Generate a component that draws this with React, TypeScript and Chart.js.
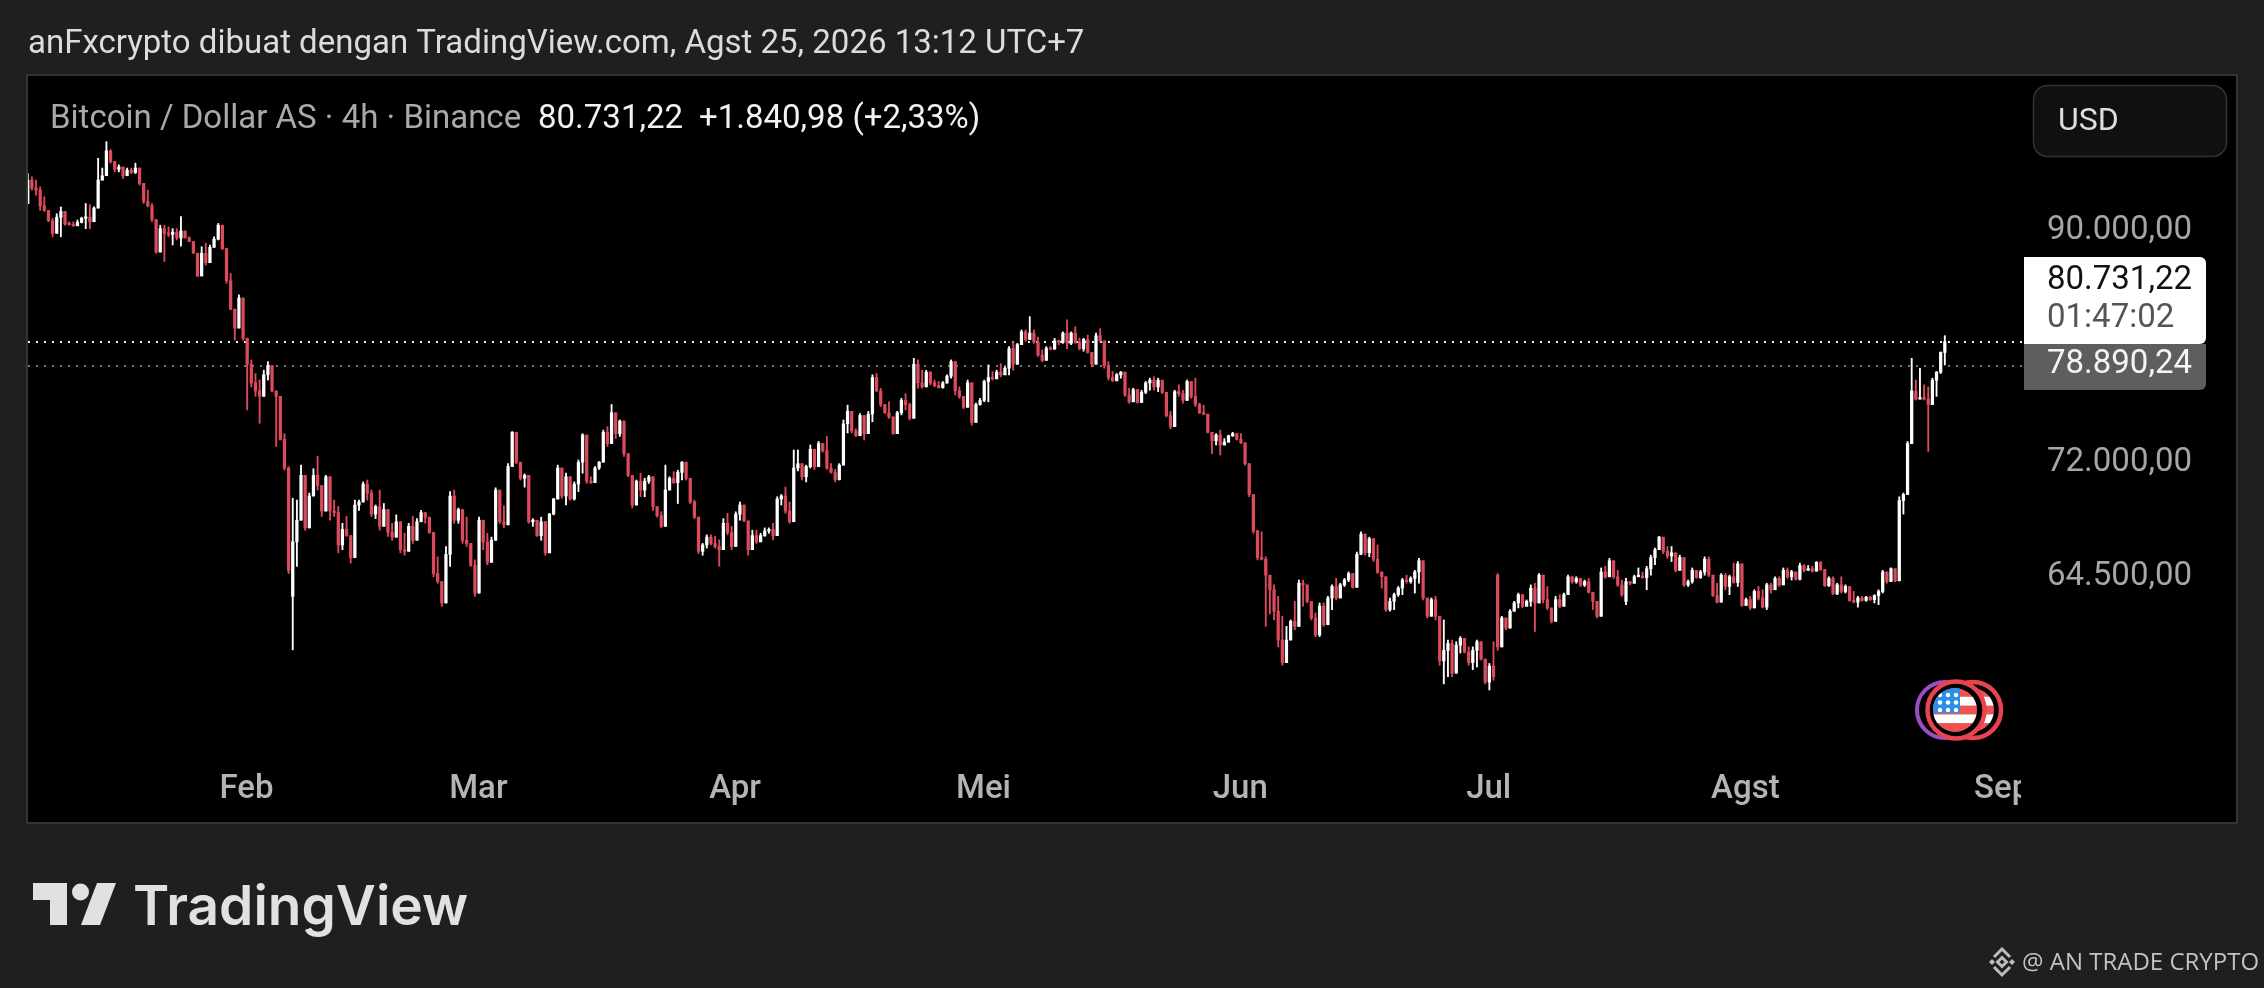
import React, { useEffect, useRef } from "react";
import { Chart, registerables } from "chart.js";

Chart.register(...registerables);

// Candle rows in thousands of USD: [high, low, close, optional open]. One row per 12 hours.
const candlesJan = [[94.9,92.2,94.3],[94.6,93.4,93.6],[94.3,92.95,93.4],[93.7,91.6,92.0],[92.8,91.5,91.6],[91.6,90.6,90.7],[90.9,89.3,89.6],[91.3,90.2,91.0],[91.9,89.3,91.5],[90.75,90.3,90.4],[90.6,90.3,90.35],[90.6,90.2,90.25],[90.75,90.45,90.55],[91.0,90.5,90.9],[92.2,90.0,91.0],[92.1,90.0,90.6],[91.9,91.05,91.8],[96.3,92.5,94.3],[95.4,94.6,94.7],[97.85,95.85,97.0],[97.1,95.85,96.0],[95.85,95.05,95.3],[95.7,95.05,95.5],[95.4,94.45,94.7],[95.4,95.05,95.2],[95.4,94.9,95.0],[95.85,94.9,95.4],[95.4,93.85,94.0],[93.4,92.2,92.4],[93.4,91.9,92.0],[92.2,90.6,90.8],[90.45,87.9,88.0],[90.3,88.0,90.0],[90.3,87.2,89.6],[90.15,89.3,89.5],[90.0,88.6,89.7],[90.0,89.03,89.2],[91.05,88.5,89.8],[89.6,89.2,89.2],[89.3,88.9,88.9],[88.9,87.9,87.9],[87.9,85.95,86.0],[88.45,87.05,87.9],[88.75,86.9,87.1],[88.6,87.3,88.4],[89.3,88.75,89.1],[90.45,89.03,90.3],[89.3,88.2,88.3],[87.6,85.4,85.6],[86.2,83.25,83.3],[83.25,80.86,81.8],[84.45,81.9,84.2],[83.75,80.86,81.0]];
const candlesFeb = [[80.86,75.6,79.0],[79.33,77.3,77.6],[78.3,76.6,77.0],[77.81,74.65,76.6],[78.55,76.6,78.2],[79.2,77.81,78.9],[78.8,76.95,77.0],[76.8,73.0,76.6],[76.33,73.45,73.5],[73.9,71.35,71.5],[71.6,64.6,64.8],[69.45,60.03,66.6,63.2],[69.33,65.05,68.0],[71.7,68.25,71.0],[69.8,67.35,67.5],[69.8,68.9,69.6],[71.45,70.0,71.0],[72.3,70.0,70.3],[69.8,68.25,68.6],[71.0,69.33,70.9],[69.8,68.0,68.6],[69.33,68.25,68.5],[68.9,65.9,66.4],[67.8,66.1,67.4],[68.25,66.95,67.0],[66.95,65.25,65.6],[69.33,66.95,69.0],[69.33,68.65,69.2],[70.55,69.33,70.4],[70.68,69.33,69.8],[70.0,68.25,68.4],[69.0,68.1,68.9],[70.0,67.35,67.6],[69.1,68.0,68.7],[68.25,66.95,67.2],[67.8,66.7,66.9],[68.35,66.95,67.9],[67.25,65.9,66.1],[67.15,65.75,66.0],[67.8,66.95,67.6],[68.25,66.5,66.7],[68.1,67.6,67.9],[68.65,68.0,68.5],[68.35,67.8,68.2],[67.8,67.15,67.2],[66.5,64.4,64.6],[65.65,64.0,64.1],[64.0,62.6,62.8],[66.3,64.0,65.8],[69.9,65.05,69.6],[70.0,67.8,68.0],[68.8,67.8,68.7],[67.9,66.5,66.7],[68.2,66.3,66.5],[66.2,65.05,65.1],[65.45,63.2,63.4]];
const candlesMar = [[68.2,66.3,68.0],[67.35,66.1,66.6],[67.15,65.15,65.3],[66.9,65.35,66.7],[70.15,68.7,70.0],[68.6,67.8,67.9],[68.95,67.5,67.7],[71.8,70.55,71.6],[74.05,72.4,74.0],[73.45,71.8,71.9],[71.55,70.68,70.8],[71.1,70.2,71.0],[70.2,67.8,67.9],[68.1,67.6,68.0],[67.6,66.95,67.0],[68.2,66.7,67.9],[67.6,65.75,65.9],[68.45,67.35,68.4],[69.45,68.35,69.4],[71.7,69.55,71.5],[70.35,69.45,69.6],[71.15,69.0,70.9],[70.35,69.33,69.4],[70.55,69.33,70.4],[72.05,69.9,71.9],[73.9,71.15,73.8],[71.6,70.45,70.6],[70.9,70.45,70.5],[71.6,70.8,71.5],[71.95,71.4,71.9],[74.15,72.05,74.0],[74.4,73.0,73.2],[76.0,73.8,75.4],[74.75,73.55,73.9],[74.88,73.7,74.8],[74.4,72.3,72.5],[71.95,70.9,71.0],[70.45,68.8,69.0],[70.68,69.8,70.6],[71.15,69.55,70.0],[70.8,69.55,70.6],[71.0,70.45,70.9],[70.55,68.65,68.9],[68.9,68.2,68.3],[68.55,67.5,67.6],[71.7,69.8,70.0],[70.9,70.2,70.8],[71.25,70.45,70.5],[71.35,69.1,71.2],[71.95,70.68,71.9],[71.6,70.68,70.8],[70.0,69.1,69.2],[69.33,68.1,68.2],[68.2,65.85,66.0],[66.5,65.75,66.4],[67.05,66.2,66.9],[67.05,66.4,66.5],[66.95,66.2,66.3],[66.72,65.05,66.1],[68.1,67.15,67.8],[68.45,67.05,67.2],[67.6,66.1,66.3]];
const candlesApr = [[68.55,67.15,68.4],[69.2,68.0,69.0],[69.0,67.9,67.95],[66.95,65.75,66.1],[67.35,66.4,67.0],[67.35,66.5,66.6],[67.15,66.8,67.0],[67.5,66.95,67.3],[67.5,67.15,67.4],[67.8,66.72,67.0],[69.55,67.25,69.4],[69.7,69.0,69.6],[70.2,68.45,68.6],[69.2,67.8,67.9],[72.75,69.1,71.5],[72.75,71.3,71.8],[71.8,70.68,70.9],[71.7,70.55,71.6],[73.1,71.5,72.8],[72.3,71.4,71.6],[73.35,72.05,73.2],[73.2,72.6,72.7],[73.7,71.4,71.5],[71.8,71.15,71.2],[71.4,70.55,70.7],[71.8,70.68,71.7],[74.88,72.05,74.6],[75.95,73.95,75.5],[74.75,73.95,74.1],[74.25,73.7,73.75],[75.35,74.4,75.2],[75.0,73.45,73.9],[75.5,74.65,75.3],[78.2,74.75,78.0],[78.3,76.95,77.0],[77.2,75.85,76.0],[75.95,75.35,75.4],[76.2,75.0,75.1],[74.88,73.85,73.9],[75.5,74.55,75.4],[76.45,75.25,76.3],[76.8,75.6,76.0],[76.1,74.88,75.0],[79.45,76.1,79.0],[79.33,77.2,77.6],[78.55,77.2,77.3],[78.55,77.45,78.4],[78.45,77.45,77.6],[77.81,77.3,77.4],[77.7,77.2,77.25],[77.7,77.2,77.6],[78.2,77.55,78.1],[79.33,77.95,79.2],[78.2,76.7,77.0],[77.3,76.45,76.6],[76.6,75.7,75.8],[77.81,76.2,77.6],[76.2,74.5,74.7],[76.1,75.35,76.0],[76.45,75.95,76.3]];
const candlesMay = [[77.81,76.2,77.7],[78.95,76.2,78.0],[78.45,77.81,77.9],[78.55,78.05,78.4],[79.05,78.05,78.2],[78.8,78.3,78.7],[80.35,78.2,80.2],[80.75,78.55,79.0],[80.6,79.7,80.5],[81.65,80.6,81.5],[81.65,80.75,80.9],[82.7,81.1,81.4],[81.65,80.6,80.7],[81.1,79.6,79.7],[80.1,79.2,79.3],[80.35,79.33,80.2],[80.35,80.1,80.15],[81.0,80.2,80.8],[80.86,80.5,80.7],[81.5,80.6,81.4],[82.44,80.2,80.6],[81.5,80.5,81.4],[81.9,80.6,80.7],[81.0,80.1,80.2],[81.0,80.0,80.9],[81.25,79.85,79.9],[79.85,78.8,79.0],[81.4,79.05,81.2],[81.75,80.75,80.8],[80.75,78.7,78.9],[79.2,77.81,78.0],[78.45,77.7,77.75],[78.3,77.81,78.2],[78.45,77.95,78.4],[77.7,76.6,76.7],[77.2,76.1,76.2],[77.2,76.2,77.1],[76.95,76.1,76.15],[77.05,76.2,76.9],[77.7,76.8,77.6],[77.95,77.05,77.8],[78.05,77.05,77.3],[77.95,76.95,77.8],[77.55,76.8,76.9],[76.1,75.1,75.2],[75.5,74.25,74.4],[77.05,75.85,76.95],[77.45,76.6,76.8],[77.05,76.1,76.3],[77.81,77.05,77.7],[77.3,76.45,76.6],[77.95,75.85,76.0],[76.1,75.35,75.4],[75.95,75.25,75.3],[75.25,73.95,74.0],[73.45,72.5,73.4],[73.9,73.1,73.8],[74.15,72.4,73.1],[73.55,73.2,73.3],[73.8,73.55,73.75],[74.0,73.7,73.9],[73.9,73.45,73.5]];
const candlesJun = [[73.9,73.2,73.25],[73.1,71.7,71.8],[71.7,69.55,69.7],[69.55,67.15,67.3],[67.35,65.45,65.6],[67.25,65.45,65.5],[65.65,61.4,64.5],[64.5,62.15,63.6],[63.9,61.78,62.3],[63.2,60.2,60.6],[62.0,59.15,59.3],[61.4,59.55,60.6],[61.78,60.6,61.7],[62.9,61.2,61.4],[64.2,62.4,64.0],[64.2,62.6,63.9],[63.9,62.8,62.9],[62.9,61.78,61.9],[62.2,60.8,60.9],[62.8,60.8,62.6],[62.8,61.4,61.5],[63.2,62.4,63.1],[63.9,62.4,63.8],[64.3,62.98,63.1],[64.0,63.5,63.9],[64.3,63.8,64.2],[64.7,64.1,64.6],[64.6,63.7,63.75],[65.95,64.4,65.8],[67.25,66.2,67.1],[66.6,65.75,65.9],[66.9,65.65,66.8],[66.2,65.35,65.5],[66.4,64.6,64.7],[64.5,63.7,64.4],[64.4,62.3,62.4],[63.1,62.3,62.9],[63.4,62.4,63.3],[63.8,63.2,63.7],[64.3,63.3,64.2],[64.5,64.0,64.1],[64.4,64.0,64.3],[64.8,63.4,64.7],[65.55,64.0,65.4],[64.2,62.98,63.1],[62.9,61.9,62.0],[63.1,62.4,63.0],[63.2,61.78,62.0],[61.78,59.15,59.4],[61.78,58.1,60.0],[60.6,58.5,60.4],[60.6,58.5,58.7],[60.5,60.0,60.3],[60.8,59.85,60.7],[60.4,59.85,59.9],[60.2,59.15,59.3],[60.2,58.9,60.0],[60.6,59.05,60.5],[60.1,59.45,59.5],[59.45,58.1,58.2]];
const candlesJul = [[59.25,57.76,59.1],[60.5,58.3,58.5],[64.6,60.0,60.2,64.5],[62.0,60.2,61.9],[61.78,61.2,61.3],[62.4,61.4,62.3],[62.9,62.4,62.8],[63.4,62.5,63.3],[63.2,62.5,62.6],[62.98,62.6,62.9],[63.9,62.6,63.7],[64.0,61.1,62.8],[64.6,63.3,64.5],[64.2,62.8,63.0],[63.8,62.4,62.5],[62.5,61.6,61.7],[63.2,61.78,63.0],[63.3,62.5,62.6],[63.4,62.9,63.3],[64.5,63.8,64.4],[64.4,64.0,64.1],[64.4,64.0,64.3],[64.3,63.8,63.9],[64.2,63.8,64.1],[64.3,63.4,63.45],[63.2,62.4,62.9],[62.5,61.9,62.0],[64.95,62.4,64.7],[65.05,64.3,64.4],[65.55,64.5,65.4],[64.95,64.3,64.4],[64.8,63.8,63.9],[64.2,63.2,63.3],[64.3,62.7,64.1,62.9],[64.1,63.9,64.0],[64.5,64.0,64.4],[64.95,64.4,64.45],[64.7,64.3,64.35],[65.05,63.6,64.9],[65.75,64.5,65.6],[66.2,65.15,66.1],[66.95,66.2,66.9],[66.7,65.85,66.0],[66.3,65.55,65.7],[66.3,65.35,65.9],[65.75,64.7,64.8],[65.75,64.8,65.6],[65.45,63.8,63.9],[64.2,63.8,64.1],[64.95,64.0,64.8],[64.5,64.3,64.35],[64.8,64.3,64.7],[65.65,64.5,65.5],[65.65,64.4,64.5],[64.4,63.2,63.25],[64.0,62.8,62.85],[64.6,63.4,64.5],[64.6,63.6,63.8],[64.5,63.3,64.4],[65.25,64.0,64.05],[65.35,63.8,65.2],[63.8,62.6,62.65]];
const candlesAug = [[63.1,62.8,63.0],[63.2,62.4,62.5],[63.6,62.7,63.5],[63.8,62.98,63.1],[63.6,62.5,62.55],[64.0,62.4,63.9],[64.0,63.4,63.6],[64.4,63.8,64.3],[64.4,63.8,63.9],[64.95,63.9,64.8],[64.95,64.3,64.4],[64.8,64.2,64.7],[64.5,64.2,64.25],[65.25,64.2,65.1],[65.15,64.7,64.8],[65.1,64.8,64.9],[65.05,64.7,64.75],[65.35,64.8,65.3],[65.35,64.8,64.85],[64.8,63.8,63.85],[64.4,63.8,64.3],[64.4,63.3,63.35],[64.0,63.3,63.9],[64.4,63.4,63.5],[63.9,63.4,63.8],[63.6,62.9,62.95],[63.5,62.8,62.85],[63.2,62.55,63.1],[63.2,62.9,62.95],[63.2,62.9,63.15],[63.2,62.95,63.0],[63.3,62.8,63.25],[63.6,62.7,63.5],[64.8,63.4,64.7],[64.5,64.0,64.1],[64.95,64.1,64.9],[64.8,64.1,64.15],[69.55,64.3,69.3],[69.8,68.4,69.7],[73.35,69.7,73.2],[79.45,73.35,77.0],[77.81,76.33,76.4],[78.7,76.45,76.5],[77.45,76.33,76.4],[77.3,72.65,76.0],[77.95,76.1,77.8],[78.45,76.6,78.4],[79.95,78.3,79.9],[81.2,78.95,80.73122]];

const firstCandleDay = 4.4; // day of the year of the first candle
const candleStepDays = 0.5;
const monthDays = [31, 59, 90, 120, 151, 181, 212, 243];
const monthLabels = ["Feb", "Mar", "Apr", "Mei", "Jun", "Jul", "Agst", "Sep"];
const priceTicks = [64500, 72000, 90000];
const priceTickLabels = ["64.500,00", "72.000,00", "90.000,00"];
const lastPrice = 80731.22;
const prevClose = 78890.24;

const FONT = "Roboto, sans-serif";
const UP = "#ffffff";
const DOWN = "#dc4a5c";

const rows = [...candlesJan, ...candlesFeb, ...candlesMar, ...candlesApr, ...candlesMay, ...candlesJun, ...candlesJul, ...candlesAug];
const candles = rows.map((r, i) => {
  const open = r.length > 3 ? r[3] : i > 0 ? rows[i - 1][2] : r[1];
  const close = r[2];
  return {
    x: firstCandleDay + i * candleStepDays,
    open: open * 1000,
    close: close * 1000,
    high: Math.max(r[0], open, close) * 1000,
    low: Math.min(r[1], open, close) * 1000,
  };
});
const candleColor = (c: any) => (c.close >= c.open ? UP : DOWN);

function text(ctx: any, s: string, x: number, y: number, font: string, color: string, align = "left") {
  ctx.font = font;
  ctx.fillStyle = color;
  ctx.textAlign = align;
  ctx.textBaseline = "middle";
  ctx.fillText(s, x, y);
}

function miniFlag(ctx: any, cx: number, cy: number, r: number, canton: boolean) {
  ctx.save();
  ctx.beginPath();
  ctx.arc(cx, cy, r, 0, Math.PI * 2);
  ctx.clip();
  const top = cy - r;
  const h = (2 * r) / 5;
  const colors = ["#ef5350", "#ffffff", "#ef5350", "#ffffff", "#ef5350"];
  colors.forEach((col, i) => {
    ctx.fillStyle = col;
    ctx.fillRect(cx - r, top + i * h, 2 * r, h + 0.5);
  });
  if (canton) {
    ctx.fillStyle = "#2f8fe8";
    ctx.fillRect(cx - r, top, r + 5, r + 3);
    ctx.fillStyle = "#fff";
    for (let a = 0; a < 3; a++) for (let b = 0; b < 3; b++) {
      ctx.beginPath();
      ctx.arc(cx - 15 + a * 8, cy - 15 + b * 7.5, 2.2, 0, Math.PI * 2);
      ctx.fill();
    }
  }
  ctx.restore();
}

const furniture = {
  id: "furniture",
  beforeDraw(chart: any) {
    const ctx = chart.ctx;
    ctx.save();
    ctx.fillStyle = "#1f1f1f";
    ctx.fillRect(0, 0, chart.width, chart.height);
    ctx.fillStyle = "#000";
    ctx.fillRect(28, 76, 2208, 746);
    ctx.strokeStyle = "#343434";
    ctx.lineWidth = 2;
    ctx.strokeRect(27, 75, 2210, 748);
    ctx.restore();
  },
  beforeDatasetsDraw(chart: any) {
    const ctx = chart.ctx;
    const y = chart.scales.y;
    ctx.save();
    ctx.lineWidth = 2;
    ctx.setLineDash([2, 6]);
    ctx.strokeStyle = "#f2f2f2";
    ctx.beginPath();
    ctx.moveTo(28, Math.round(y.getPixelForValue(lastPrice)));
    ctx.lineTo(2024, Math.round(y.getPixelForValue(lastPrice)));
    ctx.stroke();
    ctx.strokeStyle = "#7a7a7a";
    ctx.beginPath();
    ctx.moveTo(28, Math.round(y.getPixelForValue(prevClose)));
    ctx.lineTo(2024, Math.round(y.getPixelForValue(prevClose)));
    ctx.stroke();
    ctx.restore();
  },
  afterDraw(chart: any) {
    const ctx = chart.ctx;
    ctx.save();
    // clip of the time axis label
    ctx.fillStyle = "#000";
    ctx.fillRect(2021, 755, 60, 62);

    // header
    text(ctx, "anFxcrypto dibuat dengan TradingView.com, Agst 25, 2026 13:12 UTC+7", 28, 44.5, `33px ${FONT}`, "#dcdcdc");
    // legend
    text(ctx, "Bitcoin / Dollar AS · 4h · Binance", 50, 119.5, `33px ${FONT}`, "#a9a9a9");
    text(ctx, "80.731,22", 538, 119.5, `33px ${FONT}`, "#f2f2f2");
    text(ctx, "+1.840,98 (+2,33%)", 699, 119.5, `33px ${FONT}`, "#f2f2f2");

    // currency box
    ctx.beginPath();
    ctx.roundRect(2033.5, 85.5, 193, 71, 14);
    ctx.fillStyle = "#101010";
    ctx.fill();
    ctx.strokeStyle = "#333";
    ctx.lineWidth = 1.5;
    ctx.stroke();
    text(ctx, "USD", 2058, 122, `32px ${FONT}`, "#dedede");

    // price labels
    ctx.beginPath();
    ctx.roundRect(2024, 344, 182, 46, [0, 0, 6, 0]);
    ctx.fillStyle = "#5e5e5e";
    ctx.fill();
    ctx.beginPath();
    ctx.roundRect(2024, 257, 182, 87, [0, 6, 6, 0]);
    ctx.fillStyle = "#ffffff";
    ctx.fill();
    text(ctx, "80.731,22", 2192, 281, `33px ${FONT}`, "#111111", "right");
    text(ctx, "01:47:02", 2047, 319, `33px ${FONT}`, "#555555");
    text(ctx, "78.890,24", 2192, 364.5, `33px ${FONT}`, "#f4f4f4", "right");

    // event marker
    const cy = 710;
    ctx.lineWidth = 4;
    ctx.strokeStyle = "#9a4fc4";
    ctx.beginPath();
    ctx.arc(1945, cy, 28, 0, Math.PI * 2);
    ctx.stroke();
    miniFlag(ctx, 1972, cy, 22, false);
    ctx.strokeStyle = "#e8434f";
    ctx.lineWidth = 4.5;
    ctx.beginPath();
    ctx.arc(1973, cy, 28, 0, Math.PI * 2);
    ctx.stroke();
    ctx.fillStyle = "#000";
    ctx.beginPath();
    ctx.arc(1956, cy, 30, 0, Math.PI * 2);
    ctx.fill();
    ctx.strokeStyle = "#e8434f";
    ctx.lineWidth = 4.5;
    ctx.beginPath();
    ctx.arc(1956, cy, 28.5, 0, Math.PI * 2);
    ctx.stroke();
    miniFlag(ctx, 1955, cy, 22, true);

    // TradingView logo
    ctx.fillStyle = "#e1e1e1";
    ctx.beginPath();
    ctx.moveTo(33, 883); ctx.lineTo(67, 883); ctx.lineTo(67, 925); ctx.lineTo(50, 925); ctx.lineTo(50, 900); ctx.lineTo(33, 900);
    ctx.closePath();
    ctx.fill();
    ctx.beginPath();
    ctx.arc(80.5, 892, 8.5, 0, Math.PI * 2);
    ctx.fill();
    ctx.beginPath();
    ctx.moveTo(97, 883); ctx.lineTo(116, 883); ctx.lineTo(100, 925); ctx.lineTo(81, 925);
    ctx.closePath();
    ctx.fill();
    ctx.font = `600 55px Inter, sans-serif`;
    ctx.textAlign = "left";
    ctx.textBaseline = "alphabetic";
    ctx.fillText("TradingView", 133, 925);

    // watermark
    const bx = 2002, by = 962;
    ctx.strokeStyle = "#bdbdbd";
    ctx.lineWidth = 3;
    ctx.beginPath();
    ctx.moveTo(bx - 8, by - 5); ctx.lineTo(bx, by - 13); ctx.lineTo(bx + 8, by - 5);
    ctx.moveTo(bx - 8, by + 5); ctx.lineTo(bx, by + 13); ctx.lineTo(bx + 8, by + 5);
    ctx.moveTo(bx, by - 4.5); ctx.lineTo(bx + 4.5, by); ctx.lineTo(bx, by + 4.5); ctx.lineTo(bx - 4.5, by);
    ctx.closePath();
    ctx.stroke();
    ctx.fillStyle = "#bdbdbd";
    [-1, 1].forEach((s) => {
      ctx.beginPath();
      ctx.moveTo(bx + s * 10, by - 3); ctx.lineTo(bx + s * 13, by); ctx.lineTo(bx + s * 10, by + 3); ctx.lineTo(bx + s * 7, by);
      ctx.closePath();
      ctx.fill();
    });
    text(ctx, "@ AN TRADE CRYPTO", 2022, 963, `24px "Open Sans", sans-serif`, "#c2c2c2");
    ctx.restore();
  },
};

export default function App() {
  const ref = useRef<HTMLCanvasElement | null>(null);
  useEffect(() => {
    document.body.style.margin = "0";
    document.body.style.overflow = "hidden";
    const chart = new Chart(ref.current as any, {
      type: "bar",
      data: {
        datasets: [
          {
            label: "Wick",
            grouped: false,
            barThickness: 1.2,
            minBarLength: 1,
            order: 2,
            data: candles.map((c) => ({ x: c.x, y: [c.low, c.high] })),
            backgroundColor: candles.map(candleColor),
          },
          {
            label: "Body",
            grouped: false,
            barThickness: 2.6,
            minBarLength: 1.5,
            order: 1,
            data: candles.map((c) => ({ x: c.x, y: [c.open, c.close] })),
            backgroundColor: candles.map(candleColor),
          },
        ] as any,
      },
      options: {
        animation: false,
        responsive: false,
        devicePixelRatio: 1,
        events: [],
        layout: { padding: { left: 28, top: 76, right: 28, bottom: 166 } },
        plugins: { legend: { display: false }, tooltip: { enabled: false } },
        scales: {
          x: {
            type: "linear",
            offset: false,
            min: 4.43,
            max: 245.1,
            grid: { display: false, offset: false },
            border: { display: false },
            afterFit: (s: any) => { s.height = 72; },
            afterBuildTicks: (s: any) => { s.ticks = monthDays.map((value) => ({ value })); },
            ticks: {
              autoSkip: false,
              maxRotation: 0,
              minRotation: 0,
              padding: 12,
              labelOffset: -1.5,
              color: "#b4b4b4",
              font: { family: FONT, size: 33, weight: "500" },
              callback: (_v: any, i: number) => monthLabels[i],
            },
          },
          y: {
            type: "logarithmic",
            position: "right",
            beginAtZero: false,
            min: 54520,
            max: 104230,
            grid: { display: false },
            border: { display: false },
            afterFit: (s: any) => { s.width = 215; },
            afterBuildTicks: (s: any) => { s.ticks = priceTicks.map((value) => ({ value })); },
            ticks: {
              padding: 18,
              labelOffset: 2,
              color: "#a6a6a6",
              font: { family: FONT, size: 33 },
              callback: (_v: any, i: number) => priceTickLabels[i],
            },
          },
        },
      } as any,
      plugins: [furniture],
    });
    return () => chart.destroy();
  }, []);
  return (
    <div style={{ position: "absolute", left: 0, top: 0, width: 2264, height: 988 }}>
      <canvas ref={ref} width={2264} height={988} style={{ display: "block" }} />
    </div>
  );
}
